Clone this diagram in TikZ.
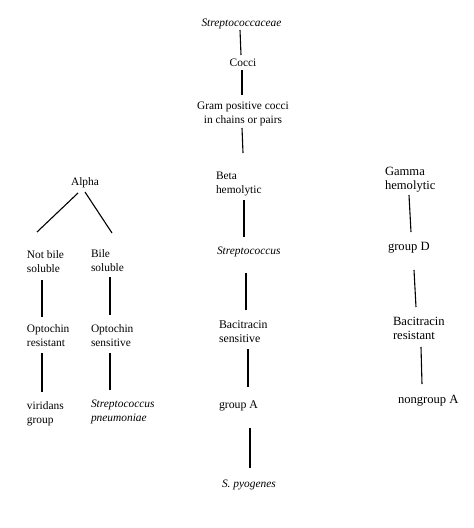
\documentclass[tikz,border=0pt]{standalone}
\usepackage{fontspec}
\setmainfont{Liberation Serif}
\begin{document}
\begin{tikzpicture}[x=1pt,y=-1pt,
  lbl/.style={inner sep=0pt,outer sep=0pt,align=left,anchor=base west,
    font=\fontsize{11.4}{13.5}\selectfont},
  clbl/.style={lbl,align=center,anchor=base},
  mid/.style={font=\fontsize{11.8}{14}\selectfont},
  big/.style={font=\fontsize{12.6}{13.5}\selectfont},
  conn/.style={line width=1.1pt,black}]
\useasboundingbox (0,0) rectangle (474,528);
% centre column (multi-line nodes: base = last line)
\node[clbl] (fam) at (241.5,26) {\itshape Streptococcaceae};
\node[clbl] (cocci) at (243,66) {Cocci};
\node[clbl] (gram) at (243,123) {Gram positive cocci\\in chains or pairs};
\node[lbl] (beta) at (216,193) {Beta\\hemolytic};
\node[lbl] (strep) at (217,254) {\itshape Streptococcus};
\node[lbl,mid] (bacs) at (219,342) {Bacitracin\\sensitive};
\node[lbl,mid] (grA) at (219,408) {group A};
\node[lbl] (pyo) at (222,487) {\itshape S. pyogenes};
% left column
\node[clbl] (alpha) at (85,185) {Alpha};
\node[lbl] (nbs) at (27,272) {Not bile\\soluble};
\node[lbl] (bs) at (91,271) {Bile\\soluble};
\node[lbl] (optr) at (27,346) {Optochin\\resistant};
\node[lbl] (opts) at (91,346) {Optochin\\sensitive};
\node[lbl] (vir) at (27,423) {viridans\\group};
\node[lbl] (pneu) at (91,421) {\itshape Streptococcus\\\itshape pneumoniae};
% right column
\node[lbl,big] (gamma) at (385,189) {Gamma\\hemolytic};
\node[lbl,big] (grD) at (388,250) {group D};
\node[lbl,big] (bacr) at (393,339) {Bacitracin\\resistant};
\node[lbl,big] (ngA) at (398,403) {nongroup A};
% connector end points
\coordinate (c1a) at (240,30);  \coordinate (c1b) at (241,55);
\coordinate (c2a) at (242,70);  \coordinate (c2b) at (242,95);
\coordinate (c3a) at (242,128); \coordinate (c3b) at (243,153);
\coordinate (c4a) at (244,200); \coordinate (c4b) at (244,237);
\coordinate (c5a) at (246,273); \coordinate (c5b) at (246,310);
\coordinate (c6a) at (248,349); \coordinate (c6b) at (248,387);
\coordinate (c7a) at (250,428); \coordinate (c7b) at (250,468);
\coordinate (a1a) at (78,193);  \coordinate (a1b) at (37,232);
\coordinate (a2a) at (85,192);  \coordinate (a2b) at (112,233);
\coordinate (l1a) at (42,280);  \coordinate (l1b) at (42,317);
\coordinate (r1a) at (110,277); \coordinate (r1b) at (110,315);
\coordinate (l2a) at (42,353);  \coordinate (l2b) at (42,392);
\coordinate (r2a) at (110,353); \coordinate (r2b) at (110,390);
\coordinate (g1a) at (409,195); \coordinate (g1b) at (411,232);
\coordinate (g2a) at (414,270); \coordinate (g2b) at (416,307);
\coordinate (g3a) at (421,347); \coordinate (g3b) at (422,384);
\draw[conn] (c1a) -- (c1b);
\draw[conn] (c2a) -- (c2b);
\draw[conn] (c3a) -- (c3b);
\draw[conn] (c4a) -- (c4b);
\draw[conn] (c5a) -- (c5b);
\draw[conn] (c6a) -- (c6b);
\draw[conn] (c7a) -- (c7b);
\draw[conn] (a1a) -- (a1b);
\draw[conn] (a2a) -- (a2b);
\draw[conn] (l1a) -- (l1b);
\draw[conn] (r1a) -- (r1b);
\draw[conn] (l2a) -- (l2b);
\draw[conn] (r2a) -- (r2b);
\draw[conn] (g1a) -- (g1b);
\draw[conn] (g2a) -- (g2b);
\draw[conn] (g3a) -- (g3b);
\end{tikzpicture}
\end{document}
